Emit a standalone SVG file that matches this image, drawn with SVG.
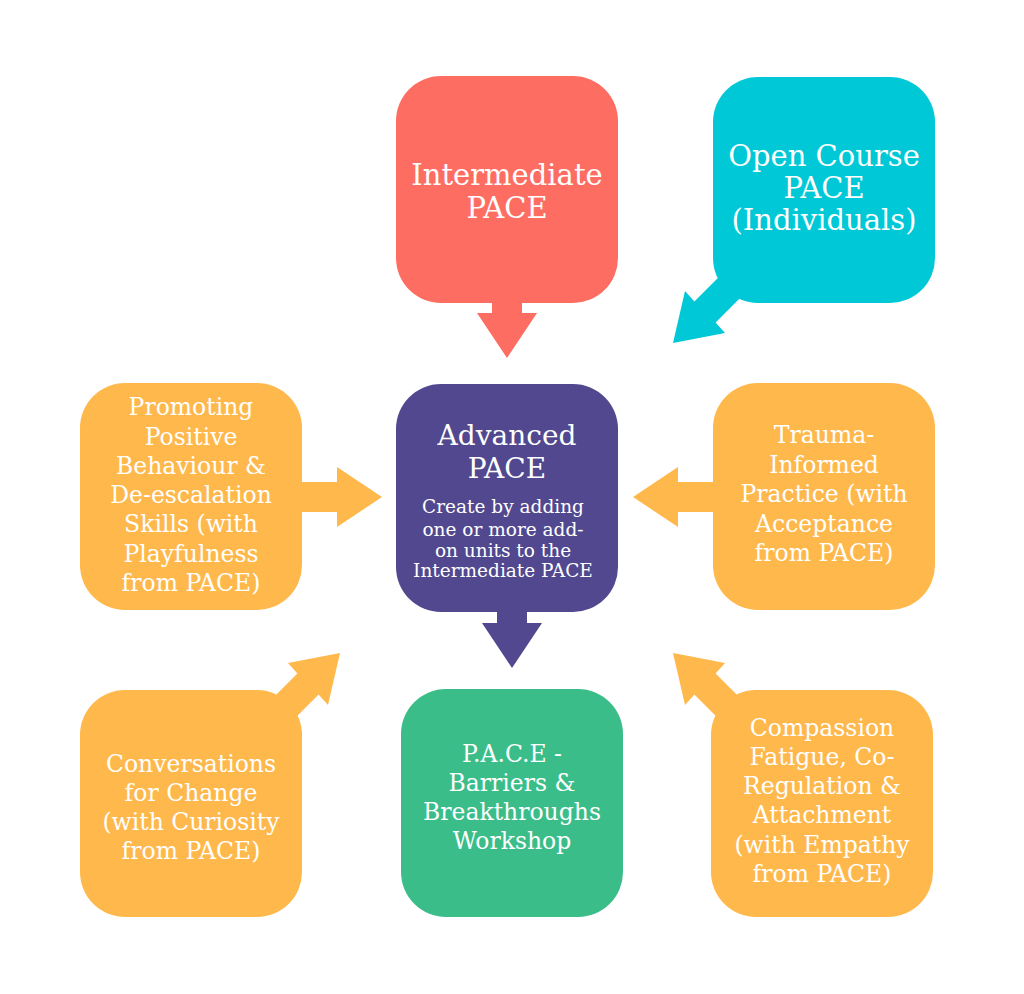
<svg xmlns="http://www.w3.org/2000/svg" width="1024" height="994" viewBox="0 0 1024 994">
<style>
.t{font-family:"DejaVu Serif","Liberation Serif",serif;fill:#fff;text-anchor:middle}
.big{font-size:29px}
.adv{font-size:28px}
.mid{font-size:23.5px}
.sm{font-size:18.5px}
.red{fill:#FE6D62}.cyan{fill:#00C8D6}.org{fill:#FFB84B}.pur{fill:#51488F}.grn{fill:#3BBD89}
</style>
<rect width="1024" height="994" fill="#fff"/>
<g id="connectors">
<polygon class="red" points="492,295 522,295 522,313 537,313 507,358 477,313 492,313"/>
<polygon class="cyan" points="755.6,282.6 715.6,322.6 725,333 673,343 685,291 694.4,301.4 734.4,261.4"/>
<polygon class="org" points="290,482 337,482 337,467 382,497 337,527 337,512 290,512"/>
<polygon class="org" points="725,482 678,482 678,467 633,497 678,527 678,512 725,512"/>
<polygon class="pur" points="497,600 527,600 527,623 542,623 512,668 482,623 497,623"/>
<polygon class="org" points="257.4,713.4 297.4,673.4 288,663 340,653 328,705 318.6,694.6 278.6,734.6"/>
<polygon class="org" points="755.6,713.4 715.6,673.4 725,663 673,653 685,705 694.4,694.6 734.4,734.6"/>
</g>
<g id="intermediate">
<rect class="red" x="396" y="76" width="222" height="227" rx="45"/>
<text class="t big" x="507" y="185">Intermediate</text>
<text class="t big" x="507" y="218">PACE</text>
</g>
<g id="open-course">
<rect class="cyan" x="713" y="77" width="222" height="226" rx="45"/>
<text class="t big" x="824" y="166">Open Course</text>
<text class="t big" x="824" y="198">PACE</text>
<text class="t big" x="824" y="230">(Individuals)</text>
</g>
<g id="promoting">
<rect class="org" x="80" y="383" width="222" height="227" rx="45"/>
<text class="t mid" x="191" y="415">Promoting</text>
<text class="t mid" x="191" y="445">Positive</text>
<text class="t mid" x="191" y="474">Behaviour &amp;</text>
<text class="t mid" x="191" y="503">De-escalation</text>
<text class="t mid" x="191" y="532">Skills (with</text>
<text class="t mid" x="191" y="562">Playfulness</text>
<text class="t mid" x="191" y="591">from PACE)</text>
</g>
<g id="advanced">
<rect class="pur" x="396" y="384" width="222" height="228" rx="45"/>
<text class="t adv" x="507" y="445">Advanced</text>
<text class="t adv" x="507" y="478">PACE</text>
<text class="t sm" x="503" y="513">Create by adding</text>
<text class="t sm" x="503" y="536">one or more add-</text>
<text class="t sm" x="503" y="557">on units to the</text>
<text class="t sm" x="503" y="577">Intermediate PACE</text>
</g>
<g id="trauma">
<rect class="org" x="713" y="383" width="222" height="227" rx="45"/>
<text class="t mid" x="824" y="443">Trauma-</text>
<text class="t mid" x="824" y="473">Informed</text>
<text class="t mid" x="824" y="502">Practice (with</text>
<text class="t mid" x="824" y="532">Acceptance</text>
<text class="t mid" x="824" y="561">from PACE)</text>
</g>
<g id="conversations">
<rect class="org" x="80" y="690" width="222" height="227" rx="45"/>
<text class="t mid" x="191" y="772">Conversations</text>
<text class="t mid" x="191" y="801">for Change</text>
<text class="t mid" x="191" y="830">(with Curiosity</text>
<text class="t mid" x="191" y="859">from PACE)</text>
</g>
<g id="workshop">
<rect class="grn" x="401" y="689" width="222" height="228" rx="45"/>
<text class="t mid" x="512" y="762">P.A.C.E -</text>
<text class="t mid" x="512" y="791">Barriers &amp;</text>
<text class="t mid" x="512" y="820">Breakthroughs</text>
<text class="t mid" x="512" y="849">Workshop</text>
</g>
<g id="compassion">
<rect class="org" x="711" y="690" width="222" height="227" rx="45"/>
<text class="t mid" x="822" y="736">Compassion</text>
<text class="t mid" x="822" y="765">Fatigue, Co-</text>
<text class="t mid" x="822" y="794">Regulation &amp;</text>
<text class="t mid" x="822" y="823">Attachment</text>
<text class="t mid" x="822" y="853">(with Empathy</text>
<text class="t mid" x="822" y="882">from PACE)</text>
</g>
</svg>
